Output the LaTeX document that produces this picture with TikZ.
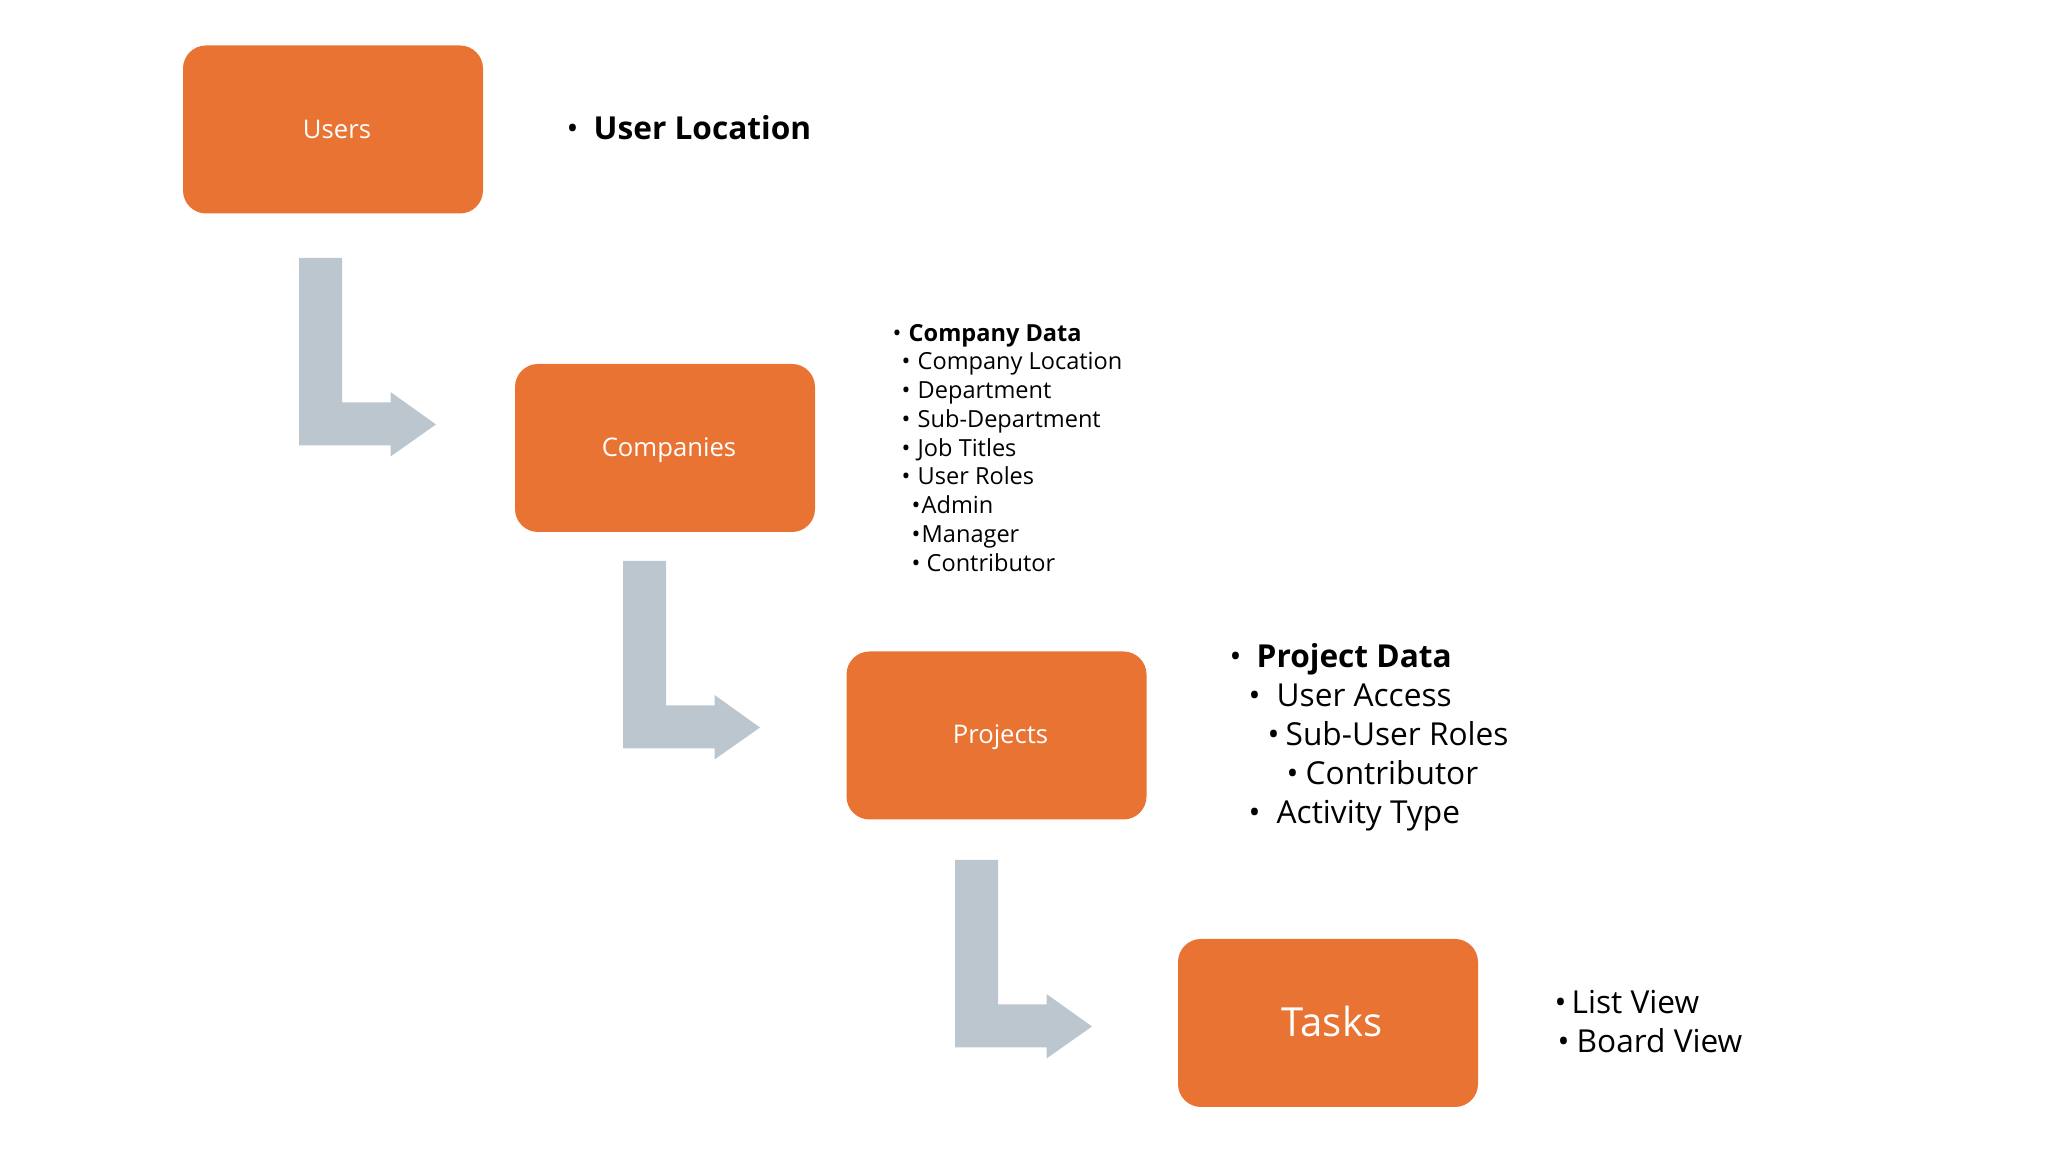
\documentclass[tikz,border=0pt]{standalone}
\usepackage{fontspec}
\setmainfont{Open Sans}
\usetikzlibrary{calc}

\definecolor{boxorange}{RGB}{232,115,50}
\definecolor{arrowgray}{RGB}{188,198,206}

% bullet with a fixed gap (in cm) before the text
\newcommand{\bu}[1]{\makebox[#1cm][l]{\textbullet}}

\tikzset{
  box/.style={fill=boxorange,rounded corners=0.23cm,minimum width=3cm,minimum height=1.68cm,
    text=white,font=\fontsize{7.3pt}{9pt}\selectfont},
  boxlabel/.style={text=white,inner sep=0pt,xshift=0.04cm},
  smallnote/.style={anchor=mid west,inner sep=0pt,font=\fontsize{6.7pt}{8pt}\selectfont},
  bignote/.style={anchor=mid west,inner sep=0pt,yshift=-0.025cm,font=\fontsize{9pt}{11pt}\selectfont},
  bentarrow/.pic={
    \fill[arrowgray] (0,0) -- (0.43,0) -- (0.43,-1.445) -- (0.915,-1.445) -- (0.915,-1.34)
      -- (1.37,-1.665) -- (0.915,-1.985) -- (0.915,-1.875) -- (0,-1.875) -- cycle;
  }
}

\begin{document}
\begin{tikzpicture}
\useasboundingbox (0,0) rectangle (20.48,11.52);

\node[box] (users) at (3.33,10.225) {};
\node[box] (companies) at (6.65,7.04) {};
\node[box] (projects) at (9.965,4.165) {};
\node[box] (tasks) at (13.28,1.29) {};
\node[boxlabel,font=\fontsize{7.3pt}{9pt}\selectfont] (usersl) at (users) {Users};
\node[boxlabel,font=\fontsize{7.3pt}{9pt}\selectfont] (companiesl) at ([yshift=-0.02cm]companies.center) {Companies};
\node[boxlabel,font=\fontsize{7.3pt}{9pt}\selectfont] (projectsl) at ([yshift=-0.02cm]projects.center) {Projects};
\node[boxlabel,font=\fontsize{11.4pt}{13pt}\selectfont] (tasksl) at ([yshift=0.02cm]tasks.center) {Tasks};

\pic at (2.99,8.94) {bentarrow};
\pic at (6.23,5.91) {bentarrow};
\pic at (9.55,2.92) {bentarrow};

% users
\node[bignote] (ul) at (5.66,10.24) {\bu{0.27}\textbf{User Location}};

% companies
\node[smallnote] (cd0) at (8.92,8.20) {\bu{0.16}\textbf{Company Data}};
\node[smallnote] (cd1) at (9.01,7.92) {\bu{0.16}Company Location};
\node[smallnote] (cd2) at (9.01,7.63) {\bu{0.16}Department};
\node[smallnote] (cd3) at (9.01,7.34) {\bu{0.16}Sub-Department};
\node[smallnote] (cd4) at (9.01,7.05) {\bu{0.16}Job Titles};
\node[smallnote] (cd5) at (9.01,6.77) {\bu{0.16}User Roles};
\node[smallnote] (cd6) at (9.11,6.48) {\bu{0.10}Admin};
\node[smallnote] (cd7) at (9.11,6.19) {\bu{0.10}Manager};
\node[smallnote] (cd8) at (9.11,5.90) {\bu{0.15}Contributor};

% projects
\node[bignote] (pd0) at (12.29,4.96) {\bu{0.27}\textbf{Project Data}};
\node[bignote] (pd1) at (12.48,4.57) {\bu{0.28}User Access};
\node[bignote] (pd2) at (12.67,4.18) {\bu{0.18}Sub-User Roles};
\node[bignote] (pd3) at (12.86,3.79) {\bu{0.19}Contributor};
\node[bignote] (pd4) at (12.48,3.40) {\bu{0.28}Activity Type};

% tasks
\node[bignote] (tv1) at (15.54,1.50) {\bu{0.17}List View};
\node[bignote] (tv2) at (15.57,1.11) {\bu{0.19}Board View};
\end{tikzpicture}
\end{document}
